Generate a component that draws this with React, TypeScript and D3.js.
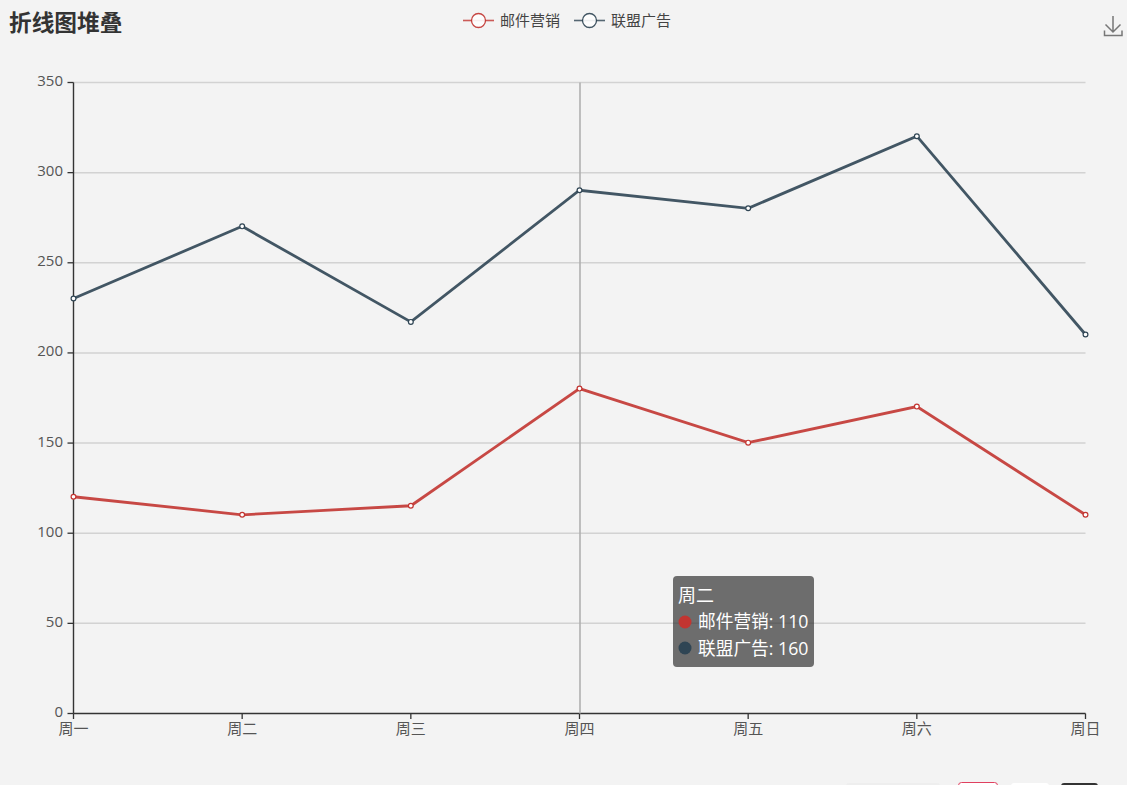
import * as d3 from "d3";

const days = ["周一", "周二", "周三", "周四", "周五", "周六", "周日"];
const seriesNames = ["邮件营销", "联盟广告"];
const seriesColors = ["#c23531", "#2f4554"];
const emailValues = [120, 110, 115, 180, 150, 170, 110];
const allianceValues = [110, 160, 102, 110, 130, 150, 100];
const yTicks = [0, 50, 100, 150, 200, 250, 300, 350];
const hoverDay = "周四";
const tooltipTitle = "周二";
const tooltipValues = [110, 160];

const width = 1127;
const height = 785;
const font = "'Open Sans', 'Noto Sans CJK SC', sans-serif";

type Row = { day: string; [key: string]: number | string };

export default function App() {
  const x = d3.scalePoint<string>().domain(days).range([73.5, 1085.5]);
  const y = d3.scaleLinear().domain([0, 350]).range([713.5, 82.5]);

  const rows: Row[] = days.map((day, i) => ({
    day,
    [seriesNames[0]]: emailValues[i],
    [seriesNames[1]]: allianceValues[i],
  }));
  const series = d3.stack<Row>().keys(seriesNames)(rows);

  const line = d3
    .line<d3.SeriesPoint<Row>>()
    .x((d) => x(d.data.day) as number)
    .y((d) => y(d[1]) - 0.4);

  return (
    <svg
      width={width}
      height={height}
      style={{ position: "fixed", left: 0, top: 0, background: "#f3f3f3", fontFamily: font }}
    >
      <text x={9} y={31} fontSize={22.7} fontWeight="bold" fill="#333">
        折线图堆叠
      </text>

      {/* legend */}
      {seriesNames.map((name, i) => {
        const lx = [463, 574][i];
        return (
          <g key={name}>
            <line x1={lx} x2={lx + 31} y1={20.5} y2={20.5} stroke={seriesColors[i]} strokeWidth={1.6} opacity={0.8} />
            <circle cx={lx + 15.5} cy={20.5} r={7} fill="#fff" stroke={seriesColors[i]} strokeWidth={1.3} opacity={0.9} />
            <text x={lx + 37} y={25.5} fontSize={15} fill="#444">
              {name}
            </text>
          </g>
        );
      })}

      {/* save icon */}
      <path
        d="M1113 16V32M1105.5 24.5L1113 32L1120.5 24.5M1104.5 30.5V35.5H1122V30.5"
        fill="none"
        stroke="#777"
        strokeWidth={1.5}
      />

      {/* grid */}
      {yTicks.slice(1).map((t) => (
        <line key={t} x1={73.5} x2={1085.5} y1={y(t)} y2={y(t)} stroke="#d2d2d2" strokeWidth={1.5} />
      ))}

      {/* y axis */}
      <line x1={73.5} x2={73.5} y1={82.5} y2={713.5} stroke="#333" strokeWidth={1.4} />
      {yTicks.map((t) => (
        <g key={t}>
          <line x1={67.5} x2={73.5} y1={y(t)} y2={y(t)} stroke="#333" strokeWidth={1.3} />
          <text x={63} y={y(t) + 3.5} textAnchor="end" fontSize={15} fill="#555">
            {t}
          </text>
        </g>
      ))}

      {/* x axis */}
      <line x1={73.5} x2={1085.5} y1={713.5} y2={713.5} stroke="#333" strokeWidth={1.4} />
      {days.map((d) => (
        <g key={d}>
          <line x1={x(d)} x2={x(d)} y1={713.5} y2={719} stroke="#333" strokeWidth={1.3} />
          <text x={x(d)} y={734} textAnchor="middle" fontSize={15} fill="#555">
            {d}
          </text>
        </g>
      ))}

      {/* axis pointer */}
      <line x1={(x(hoverDay) as number) + 0.5} x2={(x(hoverDay) as number) + 0.5} y1={82.5} y2={713.5} stroke="#b0b0b0" strokeWidth={1.6} />

      {/* lines */}
      {series.map((s, i) => (
        <g key={s.key}>
          <path d={line(s) as string} fill="none" stroke={seriesColors[i]} strokeWidth={2.8} opacity={0.9} />
          {s.map((p) => (
            <circle
              key={p.data.day}
              cx={x(p.data.day)}
              cy={y(p[1]) - 0.4}
              r={2.4}
              fill="#fff"
              stroke={seriesColors[i]}
              strokeWidth={1.2}
            />
          ))}
        </g>
      ))}

      {/* tooltip */}
      <rect x={673} y={576} width={141} height={91} rx={4} fill="#333" fillOpacity={0.7} />
      <text x={678} y={602} fontSize={18} fill="#fff">
        {tooltipTitle}
      </text>
      {seriesNames.map((name, i) => (
        <g key={name}>
          <circle cx={685} cy={622 + i * 26} r={6.5} fill={seriesColors[i]} />
          <text x={698} y={628 + i * 26.5} fontSize={17.7} fill="#fff">
            {name}: {tooltipValues[i]}
          </text>
        </g>
      ))}

      {/* buttons cut off by the bottom of the window */}
      <rect x={846} y={783} width={94} height={12} rx={3} fill="#eeeeee" />
      <rect x={958.5} y={782.5} width={39} height={12} rx={3} fill="#fff" stroke="#e0405f" />
      <rect x={1011} y={783} width={38} height={12} rx={3} fill="#fff" />
      <rect x={1061} y={783} width={37} height={12} rx={3} fill="#333" />
    </svg>
  );
}
